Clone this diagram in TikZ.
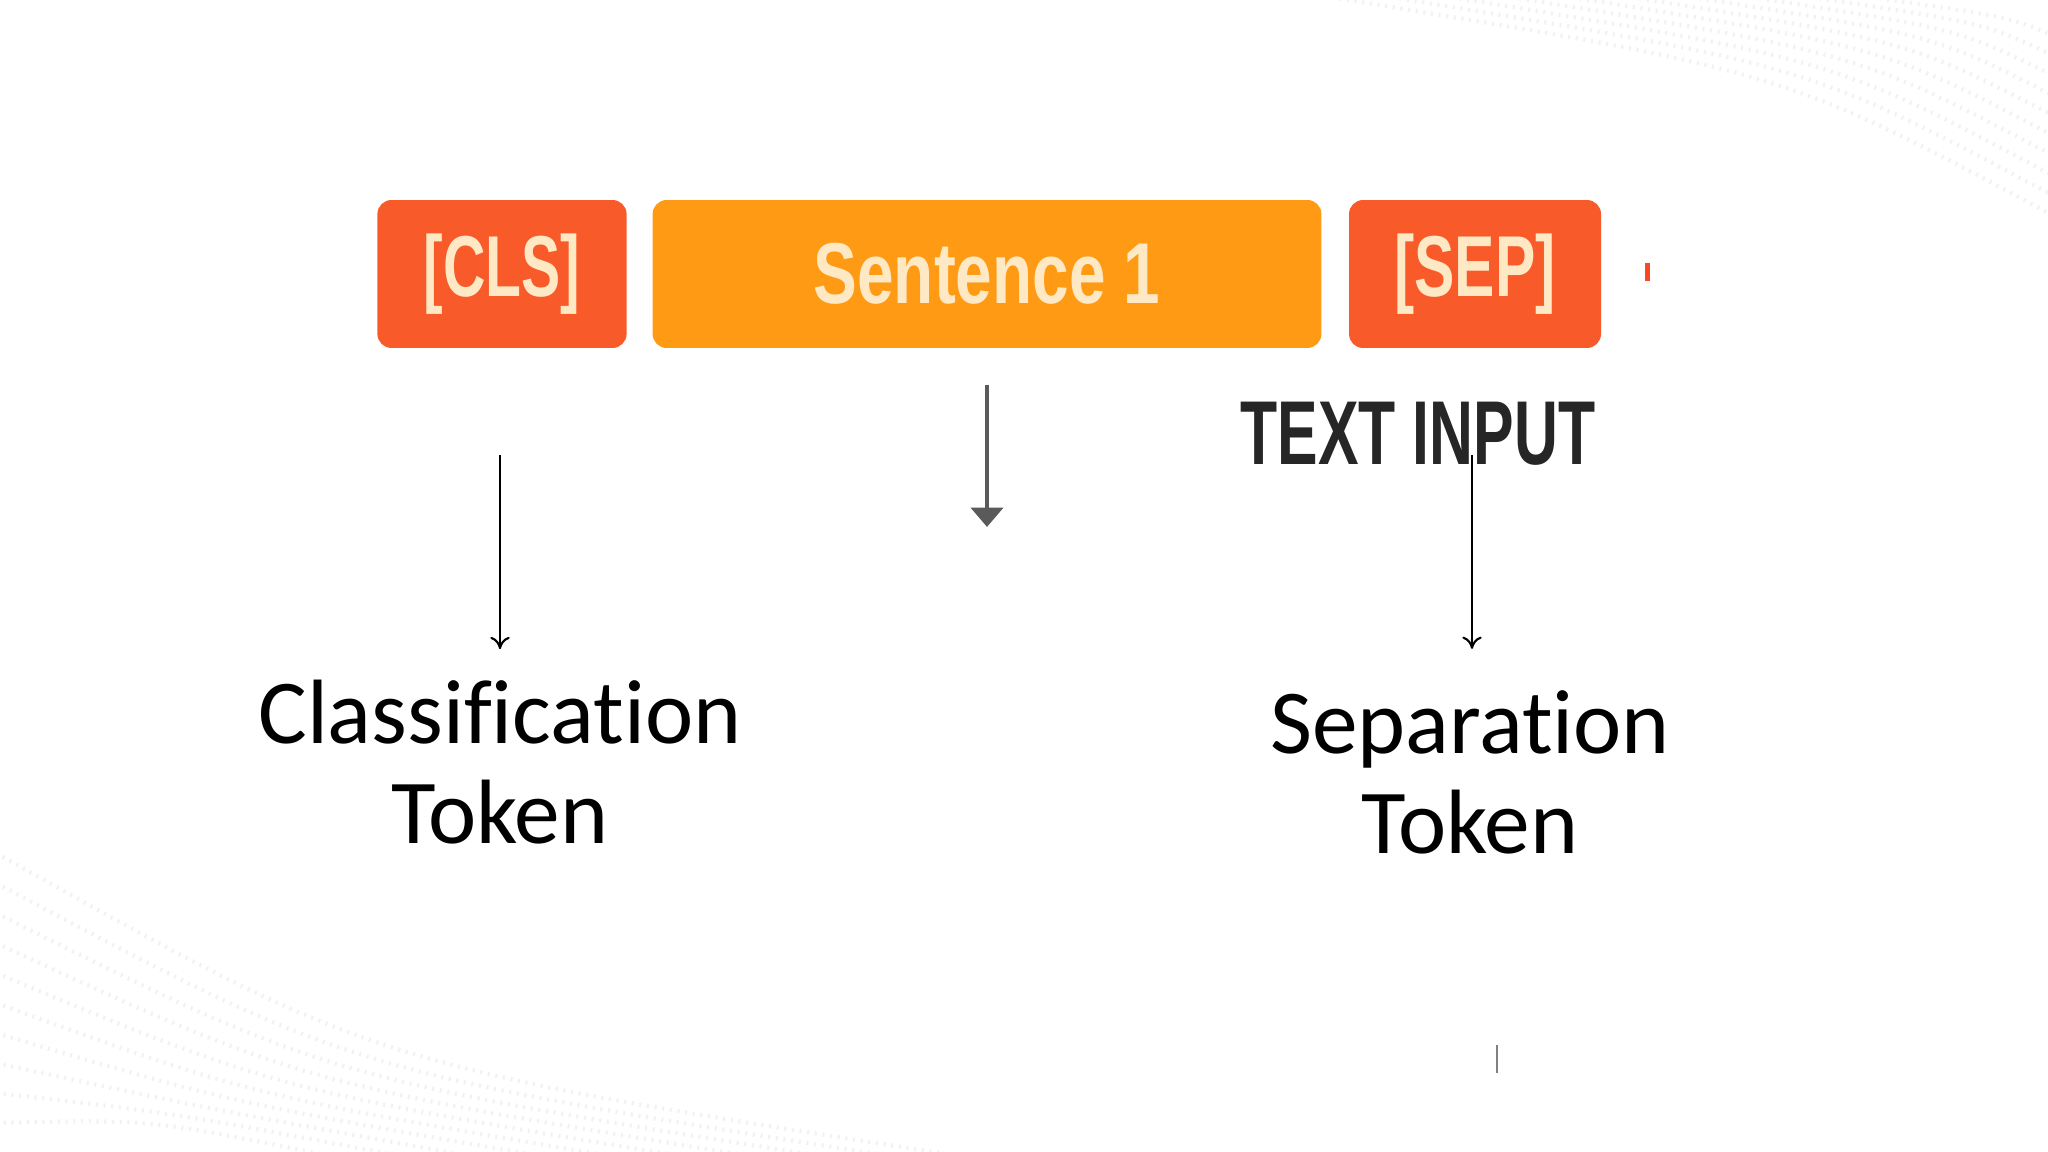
\documentclass[tikz,border=0pt]{standalone}
\usepackage{fontspec}
\usepackage{tikz}
\usetikzlibrary{arrows.meta,positioning,calc}
\setmainfont{Carlito}[Ligatures={NoCommon}]
\newfontfamily\boxfont{Liberation Sans}
\definecolor{tokRed}{HTML}{F95A2A}
\definecolor{sentOrange}{HTML}{FE9A14}
\definecolor{tokText}{HTML}{FFE8C4}
\definecolor{arrowGray}{HTML}{5A5A5A}

\begin{document}
\begin{tikzpicture}[x=0.1mm,y=-0.1mm,
  tok/.style={rounded corners=4pt,minimum height=42.1pt,inner sep=0pt,text=tokText,font=\boxfont\bfseries\fontsize{24.6}{26}\selectfont},
  lab/.style={align=center,inner sep=0pt,anchor=north,font=\fontsize{26}{28.5}\selectfont},
  thinarr/.style={-{To[length=3.5pt,width=5.5pt]},line width=0.6pt},
  grayarr/.style={-{Triangle[length=5.5pt,width=9pt]},arrowGray,line width=1.4pt},
  swirl/.style={black!5,line width=1.2pt,dash pattern=on 0.6pt off 1.6pt}]
\fill[white] (0,0) rectangle (2048,1152);
\useasboundingbox (0,0) rectangle (2048,1152);
\foreach \i in {0,...,9}
  \draw[swirl] (1324+60*\i,-4) .. controls (1784+25*\i,71-6*\i) .. (2052,215-20*\i);
\foreach \i in {0,...,9}
  \draw[swirl] (-4,853+30*\i) .. controls (374-25*\i,1065+6*\i) .. (960-70*\i,1156);
\node[tok,fill=tokRed,minimum width=70.9pt] (cls) at (502,274) {\scalebox{0.68}[1]{[CLS]}};
\node[tok,fill=sentOrange,minimum width=190.3pt] (sent) at (987,274) {\scalebox{0.76}[1]{Sentence 1}};
\node[tok,fill=tokRed,minimum width=71.7pt] (sep) at (1475,274) {\scalebox{0.7}[1]{[SEP]}};
\fill[tokRed!80!red] (1645,263) rectangle (1650,281);
\node[anchor=base,inner sep=0pt,text=black!85,font=\boxfont\bfseries\fontsize{25.8}{28}\selectfont] (txtin) at (1418,465) {\scalebox{0.67}[1]{TEXT INPUT}};
\coordinate (gtop) at (987,385);
\coordinate (gtip) at (987,527);
\draw[grayarr] (gtop) -- (gtip);
\node[lab] (clslab) at (500,679) {Classification\\Token};
\node[lab] (seplab) at (1470,690) {Separation\\Token};
\coordinate (clsfoot) at (500,455);
\coordinate (sepfoot) at (1472,455);
\draw[thinarr,shorten >=8.5pt] (clsfoot) -- (clslab.north);
\draw[thinarr,shorten >=11.7pt] (sepfoot) -- (sepfoot |- seplab.north);
\draw[black!50,line width=0.6pt] (1497,1045) -- (1497,1073);
\end{tikzpicture}
\end{document}
